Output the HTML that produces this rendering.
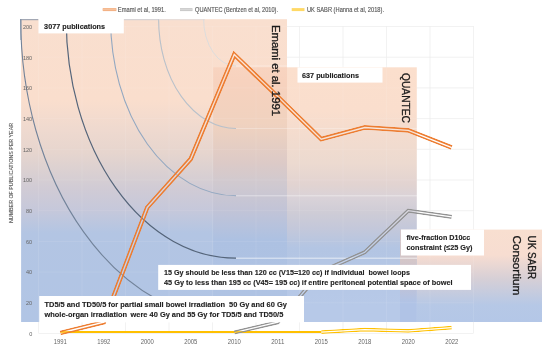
<!DOCTYPE html>
<html><head><meta charset="utf-8"><style>
html,body{margin:0;padding:0;background:#fff;}
svg{display:block;}
</style></head><body>
<svg width="550" height="351" viewBox="0 0 550 351">
<defs>
<linearGradient id="zA" gradientUnits="userSpaceOnUse" x1="0" y1="19" x2="0" y2="322"><stop offset="0.0000" stop-color="#f9dfcf"/><stop offset="0.2673" stop-color="#fadecd"/><stop offset="0.3696" stop-color="#eed9cf"/><stop offset="0.4422" stop-color="#e6d5ce"/><stop offset="0.4950" stop-color="#dcd1d1"/><stop offset="0.5611" stop-color="#d0cbd5"/><stop offset="0.6337" stop-color="#c5c8db"/><stop offset="0.7063" stop-color="#b3c5e3"/><stop offset="1.0000" stop-color="#b1c5e5"/></linearGradient>
<linearGradient id="zAB" gradientUnits="userSpaceOnUse" x1="0" y1="67" x2="0" y2="322"><stop offset="0.0000" stop-color="#f8d4c0"/><stop offset="0.0510" stop-color="#f7d2be"/><stop offset="0.2196" stop-color="#f0d2bf"/><stop offset="0.2863" stop-color="#e8cfc2"/><stop offset="0.3765" stop-color="#dccac7"/><stop offset="0.4627" stop-color="#cfc9d0"/><stop offset="0.5529" stop-color="#c3c4d6"/><stop offset="0.6784" stop-color="#adc1e2"/><stop offset="1.0000" stop-color="#b0c4e4"/></linearGradient>
<linearGradient id="zB" gradientUnits="userSpaceOnUse" x1="0" y1="67" x2="0" y2="322"><stop offset="0.0000" stop-color="#fbdfcd"/><stop offset="0.1686" stop-color="#fadecd"/><stop offset="0.3765" stop-color="#ecdad0"/><stop offset="0.4627" stop-color="#e1d3d1"/><stop offset="0.5137" stop-color="#d9d2d8"/><stop offset="0.5725" stop-color="#ceccd6"/><stop offset="0.6314" stop-color="#c4c8da"/><stop offset="0.7098" stop-color="#b3c5e3"/><stop offset="0.9373" stop-color="#b7c9e8"/><stop offset="1.0000" stop-color="#b7c9e8"/></linearGradient>
<linearGradient id="zBC" gradientUnits="userSpaceOnUse" x1="0" y1="229" x2="0" y2="322"><stop offset="0.0000" stop-color="#d4c8cc"/><stop offset="0.3333" stop-color="#d4c6c8"/><stop offset="0.5484" stop-color="#c5c2d2"/><stop offset="0.7957" stop-color="#b0c3e6"/><stop offset="1.0000" stop-color="#b0c3e6"/></linearGradient>
<linearGradient id="zC" gradientUnits="userSpaceOnUse" x1="0" y1="229" x2="0" y2="322"><stop offset="0.0000" stop-color="#f8dfd0"/><stop offset="0.2796" stop-color="#f7ddd1"/><stop offset="0.5376" stop-color="#d6cfd6"/><stop offset="0.8172" stop-color="#b6c8e6"/><stop offset="1.0000" stop-color="#b4c7e7"/></linearGradient>
<clipPath id="cA"><rect x="20" y="18.6" width="267" height="303.4"/></clipPath>
<mask id="my" maskUnits="userSpaceOnUse" x="0" y="0" width="550" height="351"><polyline points="321.25,332.1 364.75,329.6 408.25,330.8 451.75,327.6" fill="none" stroke="#fff" stroke-width="3.8" stroke-linejoin="miter" stroke-miterlimit="10"/><polyline points="321.25,332.1 364.75,329.6 408.25,330.8 451.75,327.6" fill="none" stroke="#000" stroke-width="1.2" stroke-linejoin="miter" stroke-miterlimit="10"/></mask>
<mask id="mg" maskUnits="userSpaceOnUse" x="0" y="0" width="550" height="351"><polyline points="234.25,332.54 277.75,322.25 321.25,271.60 364.75,252.26 408.25,210.66 451.75,216.95" fill="none" stroke="#fff" stroke-width="4.2" stroke-linejoin="miter" stroke-miterlimit="10"/><polyline points="234.25,332.54 277.75,322.25 321.25,271.60 364.75,252.26 408.25,210.66 451.75,216.95" fill="none" stroke="#000" stroke-width="1.3" stroke-linejoin="miter" stroke-miterlimit="10"/></mask>
<mask id="mo" maskUnits="userSpaceOnUse" x="0" y="0" width="550" height="351"><polyline points="60.25,333.00 103.75,322.25 147.25,207.44 190.75,158.93 234.25,54.55 277.75,96.61 321.25,139.13 364.75,127.46 408.25,130.38 451.75,147.57" fill="none" stroke="#fff" stroke-width="4.8" stroke-linejoin="miter" stroke-miterlimit="10"/><polyline points="60.25,333.00 103.75,322.25 147.25,207.44 190.75,158.93 234.25,54.55 277.75,96.61 321.25,139.13 364.75,127.46 408.25,130.38 451.75,147.57" fill="none" stroke="#000" stroke-width="1.4" stroke-linejoin="miter" stroke-miterlimit="10"/></mask>
</defs>
<g stroke="#ebebeb" stroke-width="0.7"><line x1="38.5" y1="333.50" x2="473.5" y2="333.50"/><line x1="38.5" y1="302.80" x2="473.5" y2="302.80"/><line x1="38.5" y1="272.10" x2="473.5" y2="272.10"/><line x1="38.5" y1="241.40" x2="473.5" y2="241.40"/><line x1="38.5" y1="210.70" x2="473.5" y2="210.70"/><line x1="38.5" y1="180.00" x2="473.5" y2="180.00"/><line x1="38.5" y1="149.30" x2="473.5" y2="149.30"/><line x1="38.5" y1="118.60" x2="473.5" y2="118.60"/><line x1="38.5" y1="87.90" x2="473.5" y2="87.90"/><line x1="38.5" y1="57.20" x2="473.5" y2="57.20"/><line x1="38.5" y1="26.50" x2="473.5" y2="26.50"/><line x1="38.50" y1="26" x2="38.50" y2="333"/><line x1="82.00" y1="26" x2="82.00" y2="333"/><line x1="125.50" y1="26" x2="125.50" y2="333"/><line x1="169.00" y1="26" x2="169.00" y2="333"/><line x1="212.50" y1="26" x2="212.50" y2="333"/><line x1="256.00" y1="26" x2="256.00" y2="333"/><line x1="299.50" y1="26" x2="299.50" y2="333"/><line x1="343.00" y1="26" x2="343.00" y2="333"/><line x1="386.50" y1="26" x2="386.50" y2="333"/><line x1="430.00" y1="26" x2="430.00" y2="333"/><line x1="473.50" y1="26" x2="473.50" y2="333"/></g>
<rect x="21.1" y="19.2" width="265.9" height="302.8" fill="url(#zA)"/>
<rect x="213.2" y="67.3" width="73.8" height="254.7" fill="url(#zAB)"/>
<rect x="287" y="67.3" width="129.8" height="254.7" fill="url(#zB)"/>
<rect x="416.8" y="229.6" width="125.2" height="92.4" fill="url(#zC)"/>
<rect x="400" y="229.6" width="16.8" height="92.4" fill="url(#zBC)"/>
<g stroke="#ffffff" stroke-opacity="0.13" stroke-width="0.7"><line x1="38.5" y1="333.50" x2="473.5" y2="333.50"/><line x1="38.5" y1="302.80" x2="473.5" y2="302.80"/><line x1="38.5" y1="272.10" x2="473.5" y2="272.10"/><line x1="38.5" y1="241.40" x2="473.5" y2="241.40"/><line x1="38.5" y1="210.70" x2="473.5" y2="210.70"/><line x1="38.5" y1="180.00" x2="473.5" y2="180.00"/><line x1="38.5" y1="149.30" x2="473.5" y2="149.30"/><line x1="38.5" y1="118.60" x2="473.5" y2="118.60"/><line x1="38.5" y1="87.90" x2="473.5" y2="87.90"/><line x1="38.5" y1="57.20" x2="473.5" y2="57.20"/><line x1="38.5" y1="26.50" x2="473.5" y2="26.50"/><line x1="38.50" y1="26" x2="38.50" y2="333"/><line x1="82.00" y1="26" x2="82.00" y2="333"/><line x1="125.50" y1="26" x2="125.50" y2="333"/><line x1="169.00" y1="26" x2="169.00" y2="333"/><line x1="212.50" y1="26" x2="212.50" y2="333"/><line x1="256.00" y1="26" x2="256.00" y2="333"/><line x1="299.50" y1="26" x2="299.50" y2="333"/><line x1="343.00" y1="26" x2="343.00" y2="333"/><line x1="386.50" y1="26" x2="386.50" y2="333"/><line x1="430.00" y1="26" x2="430.00" y2="333"/><line x1="473.50" y1="26" x2="473.50" y2="333"/></g>
<g clip-path="url(#cA)"><path d="M20.70,19 A215.3,301.5 0 0 0 236,320.50" stroke="#72839a" stroke-width="1.1" fill="none"/><path d="M66.20,19 A169.8,239.2 0 0 0 236,258.20" stroke="#55657a" stroke-width="1.2" fill="none"/><path d="M110.60,19 A125.4,176.8 0 0 0 236,195.80" stroke="#93a8c1" stroke-width="1.1" fill="none"/><path d="M158.60,19 A77.4,109.5 0 0 0 236,128.50" stroke="#b9c1ca" stroke-width="1.1" fill="none"/><path d="M203.60,19 A32.4,47 0 0 0 236,66.00" stroke="#dcdcdc" stroke-width="1.0" fill="none"/><path d="M20.9,40 V19.7 H38.5" stroke="#8292a6" stroke-width="0.9" fill="none"/><line x1="124" y1="19.7" x2="159" y2="19.7" stroke="#c9ced5" stroke-width="0.9"/><line x1="159" y1="19.7" x2="205" y2="19.7" stroke="#e2ddda" stroke-width="0.9"/></g>
<line x1="236" y1="258.20" x2="417" y2="258.20" stroke="#ffffff" stroke-opacity="0.75" stroke-width="0.9"/><line x1="236" y1="195.80" x2="417" y2="195.80" stroke="#ffffff" stroke-opacity="0.5" stroke-width="0.9"/><line x1="236" y1="128.50" x2="417" y2="128.50" stroke="#ffffff" stroke-opacity="0.3" stroke-width="0.9"/><line x1="236" y1="66.00" x2="417" y2="66.00" stroke="#ffffff" stroke-opacity="0.4" stroke-width="0.9"/>
<line x1="60.25" y1="332.1" x2="321.25" y2="332.1" stroke="#ffc000" stroke-width="2"/>
<polyline points="321.25,332.1 364.75,329.6 408.25,330.8 451.75,327.6" fill="none" stroke="#ffffff" stroke-opacity="0.22" stroke-width="1.2" stroke-linejoin="miter" stroke-miterlimit="10"/><polyline points="321.25,332.1 364.75,329.6 408.25,330.8 451.75,327.6" fill="none" stroke="#ffc000" stroke-width="3.8" stroke-linejoin="miter" stroke-miterlimit="10" mask="url(#my)"/>
<polyline points="234.25,332.54 277.75,322.25 321.25,271.60 364.75,252.26 408.25,210.66 451.75,216.95" fill="none" stroke="#ffffff" stroke-opacity="0.22" stroke-width="1.3" stroke-linejoin="miter" stroke-miterlimit="10"/><polyline points="234.25,332.54 277.75,322.25 321.25,271.60 364.75,252.26 408.25,210.66 451.75,216.95" fill="none" stroke="#929292" stroke-width="4.2" stroke-linejoin="miter" stroke-miterlimit="10" mask="url(#mg)"/>
<polyline points="60.25,333.00 103.75,322.25 147.25,207.44 190.75,158.93 234.25,54.55 277.75,96.61 321.25,139.13 364.75,127.46 408.25,130.38 451.75,147.57" fill="none" stroke="#ffffff" stroke-opacity="0.22" stroke-width="1.4" stroke-linejoin="miter" stroke-miterlimit="10"/><polyline points="60.25,333.00 103.75,322.25 147.25,207.44 190.75,158.93 234.25,54.55 277.75,96.61 321.25,139.13 364.75,127.46 408.25,130.38 451.75,147.57" fill="none" stroke="#ed7d31" stroke-width="4.8" stroke-linejoin="miter" stroke-miterlimit="10" mask="url(#mo)"/>
<g font-family="Liberation Sans, sans-serif" font-size="6" fill="#666666"><text x="29.13" y="335.80" font-size="6.1" textLength="3.07" lengthAdjust="spacingAndGlyphs">0</text><text x="26.06" y="305.10" font-size="6.1" textLength="6.14" lengthAdjust="spacingAndGlyphs">20</text><text x="26.06" y="274.40" font-size="6.1" textLength="6.14" lengthAdjust="spacingAndGlyphs">40</text><text x="26.06" y="243.70" font-size="6.1" textLength="6.14" lengthAdjust="spacingAndGlyphs">60</text><text x="26.06" y="213.00" font-size="6.1" textLength="6.14" lengthAdjust="spacingAndGlyphs">80</text><text x="22.99" y="182.30" font-size="6.1" textLength="9.21" lengthAdjust="spacingAndGlyphs">100</text><text x="22.99" y="151.60" font-size="6.1" textLength="9.21" lengthAdjust="spacingAndGlyphs">120</text><text x="22.99" y="120.90" font-size="6.1" textLength="9.21" lengthAdjust="spacingAndGlyphs">140</text><text x="22.99" y="90.20" font-size="6.1" textLength="9.21" lengthAdjust="spacingAndGlyphs">160</text><text x="22.99" y="59.50" font-size="6.1" textLength="9.21" lengthAdjust="spacingAndGlyphs">180</text><text x="22.99" y="28.80" font-size="6.1" textLength="9.21" lengthAdjust="spacingAndGlyphs">200</text><text x="53.65" y="343.7" font-size="6.5" textLength="13.2" lengthAdjust="spacingAndGlyphs">1991</text><text x="97.15" y="343.7" font-size="6.5" textLength="13.2" lengthAdjust="spacingAndGlyphs">1992</text><text x="140.65" y="343.7" font-size="6.5" textLength="13.2" lengthAdjust="spacingAndGlyphs">2000</text><text x="184.15" y="343.7" font-size="6.5" textLength="13.2" lengthAdjust="spacingAndGlyphs">2005</text><text x="227.65" y="343.7" font-size="6.5" textLength="13.2" lengthAdjust="spacingAndGlyphs">2010</text><text x="271.15" y="343.7" font-size="6.5" textLength="13.2" lengthAdjust="spacingAndGlyphs">2011</text><text x="314.65" y="343.7" font-size="6.5" textLength="13.2" lengthAdjust="spacingAndGlyphs">2015</text><text x="358.15" y="343.7" font-size="6.5" textLength="13.2" lengthAdjust="spacingAndGlyphs">2018</text><text x="401.65" y="343.7" font-size="6.5" textLength="13.2" lengthAdjust="spacingAndGlyphs">2020</text><text x="445.15" y="343.7" font-size="6.5" textLength="13.2" lengthAdjust="spacingAndGlyphs">2022</text></g>
<text transform="translate(12.5,173) rotate(-90)" text-anchor="middle" font-family="Liberation Sans, sans-serif" font-size="5.2" fill="#595959" stroke="#595959" stroke-width="0.12" textLength="100" lengthAdjust="spacingAndGlyphs">NUMBER OF PUBLICATIONS PER YEAR</text>
<line x1="102.7" y1="9.6" x2="116.4" y2="9.6" stroke="#f4b183" stroke-width="3"/><line x1="102.7" y1="9.6" x2="116.4" y2="9.6" stroke="#f8cbad" stroke-width="0.7"/>
<line x1="180" y1="9.6" x2="192.5" y2="9.6" stroke="#c9c9c9" stroke-width="3"/><line x1="180" y1="9.6" x2="192.5" y2="9.6" stroke="#e0e0e0" stroke-width="0.7"/>
<line x1="291.7" y1="9.6" x2="304.5" y2="9.6" stroke="#ffd966" stroke-width="3"/>
<g font-family="Liberation Sans, sans-serif" font-size="6.6" fill="#595959" stroke="#595959" stroke-width="0.15"><text x="117.8" y="11.6" textLength="48" lengthAdjust="spacingAndGlyphs">Emami et al, 1991.</text><text x="195" y="11.6" textLength="83" lengthAdjust="spacingAndGlyphs">QUANTEC (Bentzen et al, 2010).</text><text x="307" y="11.6" textLength="77" lengthAdjust="spacingAndGlyphs">UK SABR  (Hanna et al, 2018).</text></g>
<g fill="#ffffff"><rect x="38.5" y="19" width="85.3" height="14.4"/><rect x="297.5" y="67.4" width="85" height="15.2"/><rect x="401" y="229.5" width="83" height="26"/><rect x="158.2" y="264.9" width="312.8" height="25"/><rect x="39.2" y="296" width="264.8" height="26.4"/></g>
<g font-family="Liberation Sans, sans-serif" font-weight="bold" font-size="7.4" fill="#222222" stroke="#222222" stroke-width="0.12"><text x="44.1" y="28.6" font-size="7.6" textLength="61" lengthAdjust="spacingAndGlyphs">3077 publications</text><text x="302" y="77.6" font-size="7.6" textLength="57" lengthAdjust="spacingAndGlyphs">637 publications</text><text x="406.5" y="240.4" textLength="63.8" lengthAdjust="spacingAndGlyphs" font-size="7.3">five-fraction D10cc</text><text x="406.5" y="250.2" textLength="66" lengthAdjust="spacingAndGlyphs" font-size="7.3">constraint (≤25 Gy)</text><text xml:space="preserve" x="164" y="275.0" textLength="246" lengthAdjust="spacingAndGlyphs">15 Gy should be less than 120 cc (V15=120 cc) if individual  bowel loops</text><text xml:space="preserve" x="164" y="285.0" textLength="288.5" lengthAdjust="spacingAndGlyphs">45 Gy to less than 195 cc (V45= 195 cc) if entire peritoneal potential space of bowel</text><text xml:space="preserve" x="44.5" y="306.6" textLength="242.3" lengthAdjust="spacingAndGlyphs">TD5/5 and TD50/5 for partial small bowel irradiation  50 Gy and 60 Gy</text><text xml:space="preserve" x="44.5" y="316.6" textLength="238.8" lengthAdjust="spacingAndGlyphs">whole-organ irradiation&#8201; were 40 Gy and 55 Gy for TD5/5 and TD50/5</text></g>
<g font-family="Liberation Sans, sans-serif" font-size="11.3" fill="#1a1a1a" stroke="#1a1a1a" stroke-width="0.32"><text transform="translate(272,25) rotate(90)" textLength="91" lengthAdjust="spacingAndGlyphs">Emami et al. 1991</text><text transform="translate(401.8,73) rotate(90)" textLength="50" lengthAdjust="spacingAndGlyphs" font-size="11.8">QUANTEC</text><text transform="translate(528.3,235.6) rotate(90)" textLength="43.5" lengthAdjust="spacingAndGlyphs">UK SABR</text><text transform="translate(512.7,235.6) rotate(90)" textLength="59.7" lengthAdjust="spacingAndGlyphs">Consortium</text></g>
</svg>
</body></html>
